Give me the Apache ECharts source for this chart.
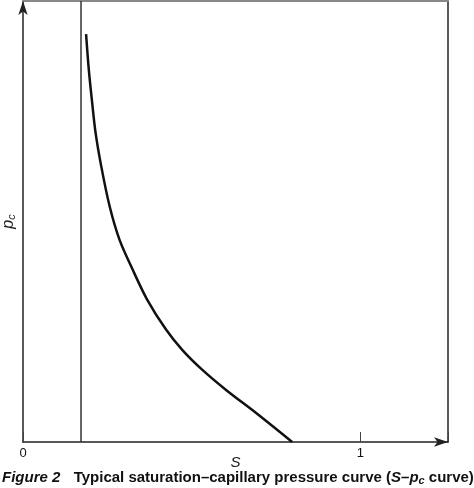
<!DOCTYPE html>
<html>
<head>
<meta charset="utf-8">
<script src="https://cdn.jsdelivr.net/npm/echarts@6/dist/echarts.min.js"></script>
<style>html,body{margin:0;padding:0;background:#fff}#c{width:474px;height:488px}</style>
</head>
<body>
<div id="c"></div>
<script>
// Saturation S (x) and capillary pressure pc (arbitrary units, y)
var satValues = [0.187, 0.195, 0.204, 0.215, 0.232, 0.257, 0.286, 0.325, 0.368, 0.424, 0.472, 0.531, 0.602, 0.694, 0.798];
var pcValues  = [9.25, 8.45, 7.77, 7.02, 6.25, 5.34, 4.59, 3.91, 3.23, 2.55, 2.09, 1.64, 1.18, 0.64, 0.0];
var residualSat = 0.169;
var xTickLabels = {0: '0', 1: '1'};

var curve = satValues.map(function (s, i) { return [s, pcValues[i]]; });

var chart = echarts.init(document.getElementById('c'), null, {renderer: 'canvas'});
chart.setOption({
  animation: false,
  backgroundColor: '#fff',
  grid: {left: 23, right: 26, top: 1, bottom: 46, outerBoundsMode: 'none', containLabel: false},
  xAxis: [{
    type: 'value', min: 0, max: 1.26, interval: 1,
    name: '{i|S}', nameLocation: 'middle', nameGap: 13, nameMoveOverlap: false,
    nameTextStyle: {rich: {i: {fontStyle: 'italic', fontSize: 15, color: '#222', fontFamily: 'Liberation Sans'}}},
    axisLine: {show: true, onZero: false, lineStyle: {color: '#222', width: 1.5}, symbol: ['none', 'arrow'], symbolSize: [7, 14]},
    axisTick: {show: true, inside: true, length: 10, lineStyle: {color: '#444', width: 1}},
    axisLabel: {show: true, color: '#111', fontSize: 13, margin: 5, fontFamily: 'Liberation Sans',
      formatter: function (v) { return xTickLabels[v] !== undefined ? xTickLabels[v] : ''; }},
    splitLine: {show: false}
  }, {
    type: 'value', position: 'top', min: 0, max: 1.26,
    axisLine: {show: true, onZero: false, lineStyle: {color: '#888', width: 2}},
    axisTick: {show: false}, axisLabel: {show: false}, splitLine: {show: false}
  }],
  yAxis: [{
    type: 'value', min: 0, max: 10,
    name: '{i|p}{s|c}', nameLocation: 'middle', nameGap: 6, nameRotate: 90, nameMoveOverlap: false,
    nameTextStyle: {rich: {
      i: {fontStyle: 'italic', fontSize: 16, color: '#222', fontFamily: 'Liberation Sans'},
      s: {fontStyle: 'italic', fontSize: 11, color: '#222', fontFamily: 'Liberation Sans', padding: [6, 0, 0, 0]}
    }},
    axisLine: {show: true, onZero: false, lineStyle: {color: '#222', width: 1.5}, symbol: ['none', 'arrow'], symbolSize: [7, 14]},
    axisTick: {show: false}, axisLabel: {show: false}, splitLine: {show: false}
  }, {
    type: 'value', position: 'right', min: 0, max: 10,
    axisLine: {show: true, onZero: false, lineStyle: {color: '#222', width: 1.5}},
    axisTick: {show: false}, axisLabel: {show: false}, splitLine: {show: false}
  }],
  series: [{
    type: 'line', data: curve, smooth: 0.3, showSymbol: false,
    lineStyle: {color: '#111', width: 2.5},
    markLine: {
      silent: true, symbol: 'none', label: {show: false},
      lineStyle: {color: '#333', width: 1.5, type: 'solid'},
      data: [{xAxis: residualSat}]
    }
  }],
  graphic: [{
    type: 'text', left: 2, top: 470,
    style: {
      text: '{it|Figure 2}    {n|Typical saturation\u2013capillary pressure curve (}{it|S\u2013p}{sb|c}{n| curve)}',
      rich: {
        it: {fontStyle: 'italic', fontWeight: 'bold', fontSize: 15, fontFamily: 'Liberation Sans', fill: '#111'},
        n: {fontWeight: 'bold', fontSize: 15, fontFamily: 'Liberation Sans', fill: '#111'},
        sb: {fontStyle: 'italic', fontWeight: 'bold', fontSize: 11, fontFamily: 'Liberation Sans', fill: '#111', padding: [6, 0, 0, 0]}
      }
    }
  }]
});
</script>
</body>
</html>
